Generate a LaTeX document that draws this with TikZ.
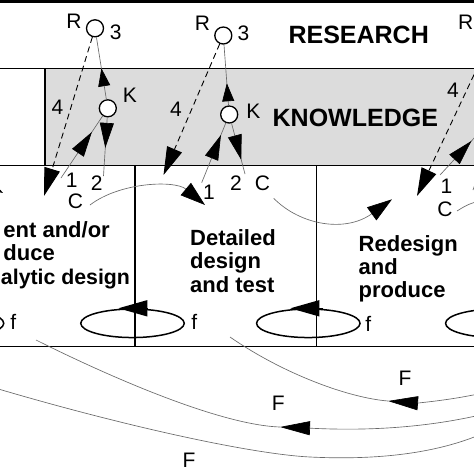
\documentclass[tikz,border=0pt]{standalone}
\usepackage{fontspec}
\setmainfont{Liberation Sans}
\usetikzlibrary{arrows.meta,decorations.markings,shapes.geometric,calc}
\definecolor{kgray}{RGB}{220,220,220}
\definecolor{lgray}{RGB}{105,105,105}
\begin{document}
\begin{tikzpicture}[x=1pt,y=-1pt,
  struct/.style={line width=1.6pt},
  circ/.style={circle,draw,line width=1.3pt,fill=white,minimum size=17pt,inner sep=0pt},
  lab/.style={font=\fontsize{21}{24}\selectfont,inner sep=0pt},
  bigF/.style={font=\fontsize{21}{24}\selectfont,inner sep=0pt},
  boxtxt/.style={font=\fontsize{22}{24}\selectfont\bfseries,inner sep=0pt,anchor=base west},
  boxtxtR/.style={font=\fontsize{22}{24}\selectfont\bfseries,inner sep=0pt,anchor=base east},
  headtxt/.style={font=\fontsize{25}{30}\selectfont\bfseries,inner sep=0pt,anchor=base},
  conn/.style={draw=lgray,line width=0.65pt},
  dconn/.style={draw=black,line width=0.9pt,dash pattern=on 6pt off 4pt},
  loopE/.style={ellipse,draw,line width=1.5pt,minimum width=103.5pt,minimum height=28.5pt,inner sep=0pt},
  midB/.style={postaction={decorate,decoration={markings,mark=at position #1 with {\arrow{Triangle[length=25pt,width=14pt,color=black]}}}}},
  midS/.style={postaction={decorate,decoration={markings,mark=at position #1 with {\arrow{Triangle[length=18pt,width=12pt,color=black]}}}}},
  arrD/.style={-{Triangle[length=28pt,width=16pt,color=black]}},
  arrC/.style={-{Triangle[length=25pt,width=16pt,color=black]}},
  arrF/.style={-{Triangle[length=30pt,width=14pt,color=black]}},
  arrE/.style={line width=1.5pt,-{Triangle[length=29pt,width=16pt,color=black]}}
]
\useasboundingbox (0,0) rectangle (474,474);
\clip (0,0) rectangle (474,474);
\fill[white] (0,0) rectangle (474,474);

% bands and boxes
\filldraw[fill=kgray,struct] (45,68.3) rectangle (480,165.3);
\draw[line width=2.7pt] (-5,1.3) -- (480,1.3);
\draw[struct] (-5,68.3) -- (480,68.3);
\draw[struct] (-5,165.3) -- (480,165.3);
\draw[struct] (-5,346.3) -- (480,346.3);
\draw[struct] (134.7,165.3) -- (134.7,346.3);
\draw[struct] (316.5,165.3) -- (316.5,346.3);

\node[headtxt] (research) at (358.7,43.3) {RESEARCH};
\node[headtxt] (knowledge) at (355.3,126.7) {KNOWLEDGE};

\node[boxtxtR] (t1a) at (110,237) {ent and/or};
\node[boxtxtR] (t1b) at (55,260.5) {duce};
\node[boxtxt,font=\fontsize{21.3}{24}\selectfont\bfseries] (t1c) at (0.8,284) {alytic design};
\node[boxtxt] (t2a) at (190,245) {Detailed};
\node[boxtxt] (t2b) at (190,268.5) {design};
\node[boxtxt] (t2c) at (190,292) {and test};
\node[boxtxt] (t3a) at (358.5,251.5) {Redesign};
\node[boxtxt] (t3b) at (358.5,274.5) {and};
\node[boxtxt] (t3c) at (358.5,297.5) {produce};

% circles
\node[circ] (R1) at (95,28.3) {};
\node[circ] (K1) at (107.8,108.3) {};
\node[circ] (R2) at (223.3,35.5) {};
\node[circ] (K2) at (229.2,114.5) {};
\node[circ] (R3) at (495,30) {};
\node[circ] (K3) at (500,110) {};

% labels
\node[lab] (lR1) at (74,20.8) {R};
\node[lab] (l31) at (115.8,32) {3};
\node[lab] (lK1) at (130,95) {K};
\node[lab] (l41) at (57.5,107.5) {4};
\node[lab] (lR2) at (202.5,23.3) {R};
\node[lab] (l32) at (243.5,33.5) {3};
\node[lab] (lK2) at (253.5,111.7) {K};
\node[lab] (l42) at (176,109) {4};
\node[lab,anchor=east] (lR3) at (473.5,22.5) {R};
\node[lab] (l43) at (453,90) {4};
\node[lab] (l11) at (71.7,180.3) {1};
\node[lab] (l21) at (96.7,183) {2};
\node[lab] (lC1) at (75.5,201.7) {C};
\node[lab] (l12) at (209,192) {1};
\node[lab] (l22) at (236,183) {2};
\node[lab] (lC2) at (262.5,183.3) {C};
\node[lab] (l13) at (446.5,186) {1};
\node[lab] (lC3) at (445,209) {C};
\node[lab] (lf0) at (13.3,322) {f};
\node[lab] (lf1) at (194.3,322) {f};
\node[lab] (lf2) at (368.3,324) {f};
\node[bigF] (lF1) at (405,378.7) {F};
\node[bigF] (lF2) at (278.3,402.8) {F};
\node[bigF] (lF3) at (189,460) {F};

% free ends
\coordinate (d1) at (44,196);
\coordinate (d2) at (163.5,175);
\coordinate (d3) at (417,196);
\coordinate (c1a) at (61,178);
\coordinate (c2a) at (103.5,176);
\coordinate (c1b) at (201.7,182.7);
\coordinate (c2b) at (245,174);
\coordinate (c1c) at (440,175);
\coordinate (c2c) at (473,190);
\coordinate (C1s) at (90,205);
\coordinate (C1t) at (205,205);
\coordinate (C2s) at (273.7,198.3);
\coordinate (C2t) at (392,199.3);
\coordinate (C3s) at (457,211);
\coordinate (C3t) at (500,196);
\coordinate (C0s) at (-80,198);
\coordinate (C0t) at (3,193);

% column connectors
\draw[conn,midS=0.5] (K1) -- (R1);
\draw[conn,midB=0.52] (K1) -- (c2a);
\draw[conn,midB=0.74] (c1a) -- (K1);
\draw[dconn,arrD] (R1) -- (d1);
\draw[conn,midS=0.364] (K2) -- (R2);
\draw[conn,midB=0.72] (K2) -- (c2b);
\draw[conn,midB=0.80] (c1b) -- (K2);
\draw[dconn,arrD] (R2) -- (d2);
\draw[dconn,arrD] (R3) -- (d3);
\draw[conn,midB=0.585] (c1c) -- (K3);
\draw[conn] (K3) -- (c2c);

% C curves
\draw[conn,arrC] (C0s) .. controls (-40,182) and (-15,182) .. (C0t);
\draw[conn,arrC] (C1s) .. controls (120,182) and (175,180) .. (C1t);
\draw[conn,arrC] (C2s) .. controls (300,225) and (345,233) .. (C2t);
\draw[conn] (C3s) .. controls (470,203) .. (C3t);

% loops
\node[loopE] (E0) at (-48,323.3) {};
\node[loopE] (E1) at (132.5,323.3) {};
\node[loopE] (E2) at (308.3,323.3) {};
\node[loopE] (E3) at (497.3,323.3) {};
\draw[arrE] ($(E1.north)+(14.2,0)$) -- ($(E1.north)+(-14.2,0)$);
\draw[arrE] ($(E2.north)+(14.7,0)$) -- ($(E2.north)+(-18,0)$);

% F curves
\coordinate (F1s) at (478,394);
\coordinate (F1t) at (388,401);
\coordinate (F1e) at (230,337);
\coordinate (F2s) at (478,415.5);
\coordinate (F2t) at (280,427);
\coordinate (F2e) at (36,340);
\coordinate (F3s) at (478,435.5);
\coordinate (F3m) at (310,457);
\coordinate (F3e) at (-5,388);
\draw[conn,arrF] (F1s) .. controls (445,401) and (415,403) .. (F1t);
\draw[conn] (F1t) .. controls (350,398) and (285,375) .. (F1e);
\draw[conn,arrF] (F2s) .. controls (400,433) and (330,429) .. (F2t);
\draw[conn] (F2t) .. controls (220,425) and (110,377) .. (F2e);
\draw[conn] (F3s) .. controls (430,455) and (370,460) .. (F3m) .. controls (250,454) and (120,425) .. (F3e);
\end{tikzpicture}
\end{document}
